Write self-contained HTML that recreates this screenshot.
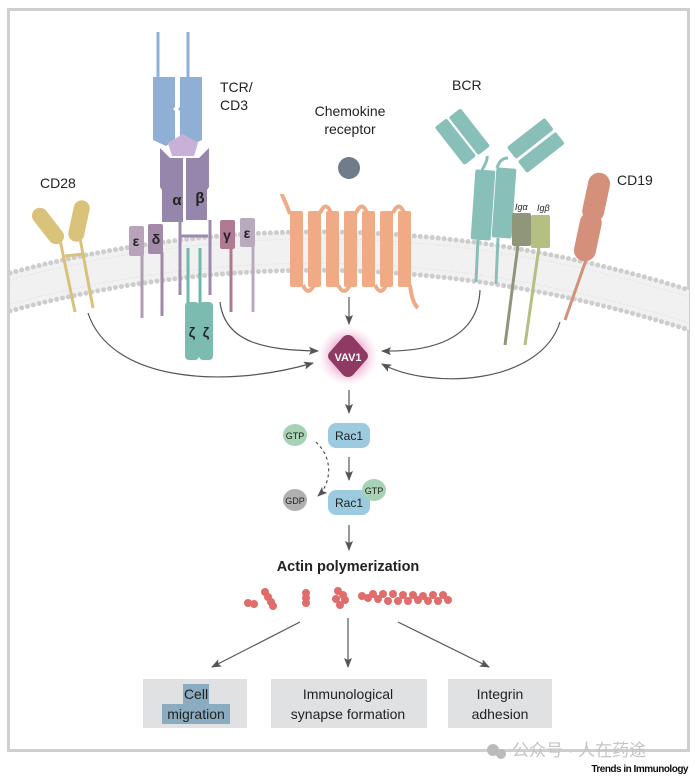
<!DOCTYPE html>
<html><head><meta charset="utf-8"><style>
html,body{margin:0;padding:0;background:#fff;}
svg{display:block;font-family:"Liberation Sans",sans-serif;}
</style></head><body>
<svg width="695" height="778" viewBox="0 0 695 778" xmlns="http://www.w3.org/2000/svg">
<defs>
<marker id="ah" markerWidth="10" markerHeight="8" refX="9" refY="4" orient="auto" markerUnits="userSpaceOnUse"><path d="M0,0 L10,4 L0,8 L2,4z" fill="#555"/></marker>
<radialGradient id="glow"><stop offset="0.4" stop-color="#e27ab4" stop-opacity="0.8"/><stop offset="1" stop-color="#f6c6e2" stop-opacity="0"/></radialGradient>
</defs>
<rect x="8.5" y="9.5" width="680" height="741" fill="#fff" stroke="#cfcfcf" stroke-width="3"/>

<!-- membrane -->
<path d="M10,273 Q345,183 689,290 L689,330 Q345,221 10,311 Z" fill="#f1f1f1"/>
<path d="M10,280 Q345,190 689,297 M10,304 Q345,214 689,323" fill="none" stroke="#dcdcdc" stroke-width="1" stroke-dasharray="1 2"/>
<path d="M10,273 Q345,183 689,290" fill="none" stroke="#cdcdcd" stroke-width="5" stroke-linecap="round" stroke-dasharray="0 6"/>
<path d="M10,311 Q345,221 689,330" fill="none" stroke="#cdcdcd" stroke-width="5" stroke-linecap="round" stroke-dasharray="0 6"/>

<!-- labels -->
<g font-size="14" fill="#222">
<text x="40" y="188">CD28</text>
<text x="220" y="92">TCR/</text>
<text x="220" y="110">CD3</text>
<text x="350" y="116" text-anchor="middle">Chemokine</text>
<text x="350" y="134" text-anchor="middle">receptor</text>
<text x="452" y="90">BCR</text>
<text x="617" y="185">CD19</text>
</g>

<!-- CD28 -->
<g stroke="#d8c27a" stroke-width="3" fill="none">
<path d="M60,240 L75,312 M80,238 L93,308 M65,256 L84,254"/>
</g>
<rect x="40" y="205" width="16" height="42" rx="8" fill="#d9c27a" transform="rotate(-38 48 226)"/>
<rect x="71" y="200" width="16" height="42" rx="8" fill="#d9c27a" transform="rotate(12 79 221)"/>

<!-- TCR -->
<g stroke="#8fb0d4" stroke-width="3"><path d="M158,32 V78 M188,32 V78"/></g>
<path d="M153,77 H175 V107 L173,109 L175,111 V140 L166,146 L153,140 Z" fill="#8fb0d4"/>
<path d="M180,77 H202 V140 L189,146 L180,140 V111 L178,109 L180,107 Z" fill="#8fb0d4"/>
<path d="M168,143 L183,134 L198,143 L194,156 L172,156Z" fill="#c8b0d8"/>
<g stroke="#9b89ae" stroke-width="3"><path d="M180,220 V295 M210,220 V295 M180,236 H208"/></g>
<path d="M160,148 L170,158 H183 V222 H162 V190 L160,187 Z" fill="#9686ab"/>
<path d="M186,158 H199 L209,148 V187 L207,190 V220 H186 Z" fill="#9686ab"/>
<text x="177" y="205" font-size="15" fill="#222" text-anchor="middle" font-weight="bold">α</text>
<text x="200" y="203" font-size="15" fill="#222" text-anchor="middle" font-weight="bold">β</text>
<g stroke="#6fb8aa" stroke-width="3"><path d="M188,248 V305 M200,248 V305"/></g>
<rect x="185" y="302" width="14" height="58" rx="4" fill="#7cbcb0"/>
<rect x="199" y="302" width="14" height="58" rx="4" fill="#7cbcb0"/>
<text x="192" y="337" font-size="14" text-anchor="middle" font-weight="bold" fill="#222">ζ</text>
<text x="206" y="337" font-size="14" text-anchor="middle" font-weight="bold" fill="#222">ζ</text>
<g stroke-width="3">
<path d="M142,254 V318" stroke="#b29eb4"/><path d="M162,252 V316" stroke="#a088a6"/>
<path d="M231,246 V312" stroke="#b07990"/><path d="M253,244 V312" stroke="#b9a9bd"/>
</g>
<rect x="129" y="226" width="15" height="30" rx="2" fill="#b8a3bb"/>
<rect x="148" y="224" width="15" height="30" rx="2" fill="#a38aa8"/>
<rect x="220" y="220" width="15" height="29" rx="2" fill="#b07a92"/>
<rect x="240" y="218" width="15" height="29" rx="2" fill="#baaabe"/>
<g font-size="14" font-weight="bold" fill="#222" text-anchor="middle">
<text x="136" y="246">ε</text><text x="156" y="244">δ</text><text x="227" y="240">γ</text><text x="247" y="238">ε</text>
</g>

<!-- Chemokine receptor -->
<circle cx="349" cy="168" r="11" fill="#707c89"/>
<g fill="none" stroke="#f0aa85" stroke-width="4">
<path d="M290,214 C285,200 282,196 282,194"/>
<path d="M303,285 Q308,297 314,285 M338,285 Q344,297 350,285 M375,285 Q381,297 386,285"/>
<path d="M320,213 Q326,200 331,213 M356,213 Q362,200 367,213 M393,213 Q399,200 404,213"/>
<path d="M410,285 Q412,303 418,308"/>
</g>
<g fill="#f0aa85">
<rect x="290" y="211" width="13" height="76" rx="2"/><rect x="308" y="211" width="13" height="76" rx="2"/>
<rect x="326" y="211" width="13" height="76" rx="2"/><rect x="344" y="211" width="13" height="76" rx="2"/>
<rect x="362" y="211" width="13" height="76" rx="2"/><rect x="380" y="211" width="13" height="76" rx="2"/>
<rect x="398" y="211" width="13" height="76" rx="2"/>
</g>

<!-- BCR -->
<g stroke="#88bfb9" stroke-width="3" fill="none">
<path d="M478,238 L476,282 M498,238 L496,284"/>
<path d="M482,170 Q488,160 487,156 M497,168 Q500,158 508,158"/>
</g>
<g fill="#88bfb9">
<rect x="448" y="118" width="15" height="48" rx="2" transform="rotate(-38 455 142)"/>
<rect x="462" y="108" width="15" height="48" rx="2" transform="rotate(-38 469 132)"/>
<rect x="523" y="114" width="15" height="48" rx="2" transform="rotate(52 530 138)"/>
<rect x="534" y="128" width="15" height="48" rx="2" transform="rotate(52 541 152)"/>
<rect x="473" y="170" width="20" height="70" rx="2" transform="rotate(4 483 205)"/>
<rect x="494" y="168" width="20" height="70" rx="2" transform="rotate(4 504 203)"/>
</g>
<g stroke-width="3"><path d="M518,245 L505,345" stroke="#8f967a"/><path d="M539,247 L525,345" stroke="#b4bf82"/></g>
<rect x="512" y="213" width="19" height="33" rx="2" fill="#8f967a"/>
<rect x="531" y="215" width="19" height="33" rx="2" fill="#b4bf82"/>
<text x="515" y="210" font-size="9" font-style="italic" fill="#222">Igα</text>
<text x="537" y="211" font-size="9" font-style="italic" fill="#222">Igβ</text>

<!-- CD19 -->
<path d="M586,260 L565,320" stroke="#d4907a" stroke-width="3"/>
<g transform="rotate(12 592 217)" fill="#d4907a">
<rect x="581" y="172" width="22" height="50" rx="11"/>
<rect x="581" y="212" width="22" height="50" rx="11"/>
</g>

<!-- arrows to VAV1 -->
<g fill="none" stroke="#555" stroke-width="1.2" marker-end="url(#ah)">
<path d="M88,313 C110,380 220,390 313,363"/>
<path d="M220,302 C225,345 270,350 318,351"/>
<path d="M480,290 C478,340 430,352 382,351"/>
<path d="M560,322 C540,385 430,390 382,364"/>
<path d="M349,297 V324"/>
<path d="M349,390 V413"/>
<path d="M349,457 V480"/>
<path d="M349,525 V550"/>
<path d="M300,622 L212,667"/>
<path d="M348,618 V667"/>
<path d="M398,622 L489,667"/>
</g>
<path d="M316,442 C335,460 330,485 318,496" fill="none" stroke="#555" stroke-width="1.2" stroke-dasharray="3 3" marker-end="url(#ah)"/>

<!-- VAV1 -->
<circle cx="348" cy="356" r="30" fill="url(#glow)"/>
<path d="M348,335 Q351,335 353,337 L367,353 Q369,356 367,359 L353,375 Q351,377 348,377 Q345,377 343,375 L329,359 Q327,356 329,353 L343,337 Q345,335 348,335Z" fill="#8e3a63"/>
<text x="348" y="361" font-size="11" font-weight="bold" fill="#fff" text-anchor="middle">VAV1</text>

<!-- Rac1 -->
<rect x="328" y="423" width="42" height="25" rx="8" fill="#9ccbe0"/>
<text x="349" y="440" font-size="12" fill="#222" text-anchor="middle">Rac1</text>
<rect x="328" y="490" width="42" height="25" rx="8" fill="#9ccbe0"/>
<text x="349" y="507" font-size="12" fill="#222" text-anchor="middle">Rac1</text>
<ellipse cx="374" cy="490" rx="12" ry="11" fill="#a7d2b6"/>
<text x="374" y="494" font-size="9" fill="#222" text-anchor="middle">GTP</text>
<ellipse cx="295" cy="435" rx="12" ry="11" fill="#a7d2b6"/>
<text x="295" y="439" font-size="9" fill="#222" text-anchor="middle">GTP</text>
<ellipse cx="295" cy="500" rx="12" ry="11" fill="#b0b0b0"/>
<text x="295" y="504" font-size="9" fill="#222" text-anchor="middle">GDP</text>

<text x="348" y="571" font-size="14.5" font-weight="bold" fill="#222" text-anchor="middle">Actin polymerization</text>

<!-- actin -->
<g fill="#e06c6c">
<circle cx="248" cy="603" r="4"/><circle cx="254" cy="604" r="4"/>
<circle cx="265" cy="592" r="4"/><circle cx="268" cy="597" r="4"/><circle cx="271" cy="602" r="4"/><circle cx="273" cy="606" r="4"/>
<circle cx="306" cy="593" r="4"/><circle cx="306" cy="598" r="4"/><circle cx="306" cy="603" r="4"/>
<circle cx="338" cy="591" r="4"/><circle cx="343" cy="595" r="4"/><circle cx="336" cy="599" r="4"/><circle cx="345" cy="600" r="4"/><circle cx="340" cy="605" r="4"/>
<circle cx="362" cy="596" r="4"/><circle cx="368" cy="598" r="4"/><circle cx="373" cy="594" r="4"/><circle cx="378" cy="599" r="4"/><circle cx="383" cy="594" r="4"/><circle cx="388" cy="601" r="4"/><circle cx="393" cy="594" r="4"/><circle cx="398" cy="601" r="4"/><circle cx="403" cy="595" r="4"/><circle cx="408" cy="601" r="4"/><circle cx="413" cy="595" r="4"/><circle cx="418" cy="600" r="4"/><circle cx="423" cy="596" r="4"/><circle cx="428" cy="601" r="4"/><circle cx="433" cy="595" r="4"/><circle cx="438" cy="601" r="4"/><circle cx="443" cy="595" r="4"/><circle cx="448" cy="600" r="4"/>
</g>

<!-- outcome boxes -->
<rect x="143" y="679" width="104" height="49" fill="#e0e1e2"/>
<rect x="271" y="679" width="156" height="49" fill="#e0e1e2"/>
<rect x="448" y="679" width="104" height="49" fill="#e0e1e2"/>
<rect x="183" y="684" width="26" height="20" fill="#8aabc0"/>
<rect x="162" y="704" width="68" height="20" fill="#8aabc0"/>
<g font-size="14" fill="#222" text-anchor="middle">
<text x="196" y="699">Cell</text><text x="196" y="719">migration</text>
<text x="348" y="699">Immunological</text><text x="348" y="719">synapse formation</text>
<text x="500" y="699">Integrin</text><text x="500" y="719">adhesion</text>
</g>

<!-- watermark -->
<circle cx="493" cy="750" r="6" fill="#bbb"/><circle cx="501" cy="754" r="5" fill="#bbb"/>
<text x="512" y="756" font-size="17" fill="#c4c4c4" font-family="'Liberation Sans','Noto Sans CJK SC',sans-serif">公众号 · 人在药途</text>
<text x="688" y="772" font-size="10" font-weight="bold" fill="#111" text-anchor="end" letter-spacing="-0.5">Trends in Immunology</text>
</svg>
</body></html>
